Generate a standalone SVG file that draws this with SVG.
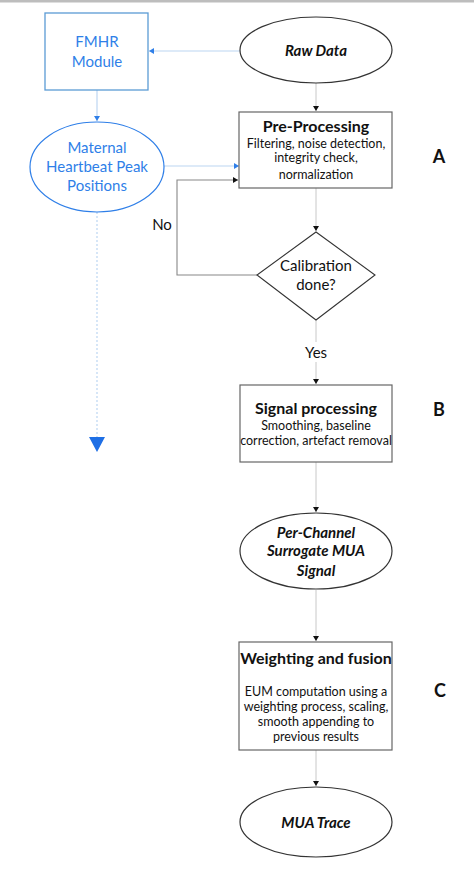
<svg xmlns="http://www.w3.org/2000/svg" width="474" height="877" viewBox="0 0 474 877">
<defs>
<marker id="ab" markerWidth="6" markerHeight="6" refX="5" refY="3" orient="auto" markerUnits="userSpaceOnUse"><path d="M0,0 L5,3 L0,6 Z" fill="#111"/></marker>
<marker id="abl" markerWidth="6" markerHeight="6" refX="5" refY="3" orient="auto" markerUnits="userSpaceOnUse"><path d="M0,0 L5,3 L0,6 Z" fill="#2f7fe8"/></marker>
<style>
text{font-family:Lato,"Open Sans","Liberation Sans",sans-serif;text-anchor:middle;fill:#111}
.blue{fill:#2f7fe8;font-size:15px}
.t{font-size:16px;font-weight:bold}
.s{font-size:12.5px}
.bi{font-size:15px;font-weight:bold;font-style:italic}
.lab{font-size:15px}
.big{font-size:18px;font-weight:bold}
.box{fill:#fff;stroke:#666;stroke-width:1.2}
.bbox{fill:#fff;stroke:#5b9bd5;stroke-width:1.3}
.ell{fill:#fff;stroke:#333;stroke-width:1.2}
.c{fill:none;stroke:#c8c8c8;stroke-width:1}
.cd{fill:none;stroke:#888;stroke-width:1.1}
.cb{fill:none;stroke:#bcd6f2;stroke-width:1.2}
</style>
</defs>
<rect x="0" y="0" width="474" height="877" fill="#fff"/>
<rect x="0" y="0" width="474" height="2.5" fill="#bdbdbd"/>
<g id="connectors">
<path class="cb" d="M240,51 L149,51" marker-end="url(#abl)"/>
<path class="cb" d="M97,90 L97,121" marker-end="url(#abl)"/>
<path class="cb" d="M164,166 L239,166" marker-end="url(#abl)"/>
<path d="M97,212 L97,440" fill="none" stroke="#bcd6f2" stroke-width="1.2" stroke-dasharray="2,2"/>
<path d="M89,437 L105,437 L97,452 Z" fill="#1f6fe5"/>
<path class="c" d="M316,82 L316,111" marker-end="url(#ab)"/>
<path class="c" d="M316,188 L316,231" marker-end="url(#ab)"/>
<path class="cd" d="M257,275 L177,275 L177,180 L238,180" marker-end="url(#ab)"/>
<path class="c" d="M316,320 L316,342 M316,362 L316,384" marker-end="url(#ab)"/>
<path class="c" d="M316,462 L316,512" marker-end="url(#ab)"/>
<path class="c" d="M316,590 L316,641" marker-end="url(#ab)"/>
<path class="c" d="M316,750 L316,786" marker-end="url(#ab)"/>
<text class="lab" x="162" y="230">No</text>
<text class="lab" x="316" y="358">Yes</text>
</g>
<g id="fmhr">
<rect class="bbox" x="45" y="13" width="103" height="77"/>
<text class="blue" x="97" y="47">FMHR</text>
<text class="blue" x="97" y="67">Module</text>
</g>
<g id="rawdata">
<ellipse class="ell" cx="316" cy="50" rx="76" ry="33"/>
<text class="bi" x="316" y="56">Raw Data</text>
</g>
<g id="maternal">
<ellipse cx="97" cy="167" rx="67" ry="45" fill="#fff" stroke="#2f7fe8" stroke-width="1.2"/>
<text class="blue" x="97" y="153">Maternal</text>
<text class="blue" x="97" y="172">Heartbeat Peak</text>
<text class="blue" x="97" y="191">Positions</text>
</g>
<g id="preprocessing">
<rect class="box" x="239" y="112" width="153" height="76"/>
<text class="t" x="316" y="132">Pre-Processing</text>
<text class="s" x="316" y="148">Filtering, noise detection,</text>
<text class="s" x="316" y="162">integrity check,</text>
<text class="s" x="316" y="179">normalization</text>
</g>
<text class="big" x="439" y="163">A</text>
<g id="calibration">
<path d="M316,232 L375,275 L316,320 L257,275 Z" fill="#fff" stroke="#333" stroke-width="1.1"/>
<text class="lab" x="316" y="271">Calibration</text>
<text class="lab" x="316" y="290">done?</text>
</g>
<g id="signal">
<rect class="box" x="240" y="385" width="152" height="77"/>
<text class="t" x="316" y="414">Signal processing</text>
<text class="s" x="316" y="430">Smoothing, baseline</text>
<text class="s" x="316" y="445">correction, artefact removal</text>
</g>
<text class="big" x="439" y="416">B</text>
<g id="perchannel">
<ellipse class="ell" cx="316" cy="551" rx="76" ry="38"/>
<text class="bi" x="316" y="538">Per-Channel</text>
<text class="bi" x="316" y="556">Surrogate MUA</text>
<text class="bi" x="316" y="576">Signal</text>
</g>
<g id="weighting">
<rect class="box" x="239" y="642" width="153" height="108"/>
<text class="t" x="316" y="664">Weighting and fusion</text>
<text class="s" x="316" y="696">EUM computation using a</text>
<text class="s" x="316" y="711">weighting process, scaling,</text>
<text class="s" x="316" y="726">smooth appending to</text>
<text class="s" x="316" y="741">previous results</text>
</g>
<text class="big" x="440" y="697">C</text>
<g id="muatrace">
<ellipse class="ell" cx="316" cy="822" rx="76" ry="35"/>
<text class="bi" x="316" y="828">MUA Trace</text>
</g>
</svg>
